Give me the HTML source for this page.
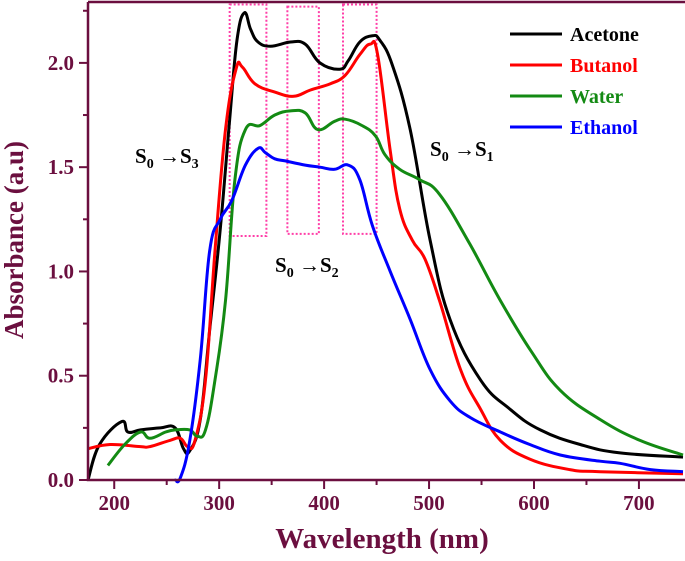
<!DOCTYPE html>
<html><head><meta charset="utf-8"><style>
body{margin:0;background:#fff}
svg text{font-family:"Liberation Serif",serif;font-weight:bold}
</style></head><body>
<svg id="chart" width="685" height="556" viewBox="0 0 685 556" xmlns="http://www.w3.org/2000/svg"></svg>
<script>
const xTicks=[200,300,400,500,600,700];
const yTicks=[0.0,0.5,1.0,1.5,2.0];
const seriesNames=["Acetone","Butanol","Water","Ethanol"];
const seriesColors=["#000000","#ff0000","#138a13","#0000ff"];
const acetoneX=[175,186,207,213,225,244,258,266,272,282,291,301,310,317,324,330,337,349,368,382,396,415,423,434,446,453,465,482,501,520,549,577,606,644,682,742];
const acetoneY=[0,0.17,0.28,0.23,0.24,0.25,0.25,0.15,0.14,0.29,0.72,1.2,1.73,2.11,2.24,2.16,2.1,2.08,2.1,2.09,2.0,1.97,2.01,2.1,2.13,2.11,1.99,1.68,1.15,0.77,0.48,0.34,0.24,0.17,0.13,0.11];
const butanolX=[175,196,225,234,253,263,270,277,287,296,306,316,322,334,353,371,387,406,420,434,444,451,463,472,484,496,510,530,549,568,596,634,663,742];
const butanolY=[0.15,0.17,0.16,0.16,0.19,0.2,0.16,0.19,0.48,1.1,1.68,1.97,1.98,1.9,1.86,1.84,1.87,1.9,1.94,2.04,2.09,2.04,1.58,1.3,1.15,1.06,0.86,0.53,0.34,0.19,0.1,0.05,0.04,0.03];
const waterX=[194,210,225,234,249,258,272,279,287,296,306,315,325,339,353,368,382,394,410,420,436,449,458,472,491,510,539,568,597,625,663,701,742];
const waterY=[0.07,0.17,0.23,0.2,0.23,0.24,0.24,0.21,0.24,0.48,0.86,1.44,1.68,1.7,1.75,1.77,1.76,1.68,1.72,1.73,1.7,1.65,1.56,1.49,1.44,1.37,1.13,0.86,0.62,0.43,0.29,0.19,0.12];
const ethanolX=[258,263,272,282,291,301,312,325,337,344,353,363,382,396,410,423,434,446,463,482,501,520,539,568,596,625,663,682,711,742];
const ethanolY=[0,0.01,0.19,0.58,1.1,1.25,1.34,1.51,1.59,1.57,1.54,1.53,1.51,1.5,1.49,1.51,1.44,1.22,1.0,0.77,0.53,0.38,0.3,0.23,0.17,0.12,0.09,0.08,0.05,0.04];
const allX=[acetoneX,butanolX,waterX,ethanolX], allY=[acetoneY,butanolY,waterY,ethanolY];

const svg=document.getElementById('chart');
const NS='http://www.w3.org/2000/svg';
const L=88,R=683,T=2,B=480,XMIN=175,XMAX=742,YMIN=0,YMAX=2.292;
const AX='#6b0f3f';
function sx(v){return L+(v-XMIN)/(XMAX-XMIN)*(R-L);}
function sy(v){return B-(v-YMIN)/(YMAX-YMIN)*(B-T);}
function mk(tag,attrs,parent){const e=document.createElementNS(NS,tag);for(const k in attrs)e.setAttribute(k,attrs[k]);(parent||svg).appendChild(e);return e;}
function smooth(pts){
  let d='M'+pts[0][0].toFixed(1)+','+pts[0][1].toFixed(1);
  for(let i=0;i<pts.length-1;i++){
    const p0=pts[Math.max(i-1,0)],p1=pts[i],p2=pts[i+1],p3=pts[Math.min(i+2,pts.length-1)];
    const t=0.2;
    const c1=[p1[0]+(p2[0]-p0[0])*t,p1[1]+(p2[1]-p0[1])*t];
    const c2=[p2[0]-(p3[0]-p1[0])*t,p2[1]-(p3[1]-p1[1])*t];
    d+=` C${c1[0].toFixed(1)},${c1[1].toFixed(1)} ${c2[0].toFixed(1)},${c2[1].toFixed(1)} ${p2[0].toFixed(1)},${p2[1].toFixed(1)}`;
  }
  return d;
}

const boxes=[[310,345,2.28,1.17],[365,395,2.27,1.18],[418,450,2.28,1.18]];
boxes.forEach((b,i)=>{
  const r=mk('rect',{x:sx(b[0]),y:sy(b[2]),width:sx(b[1])-sx(b[0]),height:sy(b[3])-sy(b[2]),fill:'none',stroke:'#ff3fa8','stroke-width':2,'stroke-dasharray':'2,2'});
  
  
});

for(let s=0;s<4;s++){
  const pts=allX[s].map((x,i)=>[sx(x),sy(allY[s][i])]);
  const p=mk('path',{d:smooth(pts),fill:'none',stroke:seriesColors[s],'stroke-width':3,'stroke-linejoin':'round'});
  
  
}

const ax=mk('path',{d:`M${L},${T} L${L},${B} L${R+2},${B} M${L},${T} L${R+2},${T}`,fill:'none',stroke:AX,'stroke-width':2.5});


xTicks.forEach(v=>{
  mk('line',{x1:sx(v),x2:sx(v),y1:B,y2:B+9,stroke:AX,'stroke-width':2});
  mk('line',{x1:sx(v+50),x2:sx(v+50),y1:B,y2:B+5,stroke:AX,'stroke-width':2});
  const t=mk('text',{x:sx(v),y:B+30,'text-anchor':'middle','font-size':21,fill:AX});t.textContent=v;
  
  
});
yTicks.forEach(v=>{
  mk('line',{x1:L-9,x2:L,y1:sy(v),y2:sy(v),stroke:AX,'stroke-width':2});
  mk('line',{x1:L-5,x2:L,y1:sy(v+0.25),y2:sy(v+0.25),stroke:AX,'stroke-width':2});
  const t=mk('text',{x:L-14,y:sy(v)+7,'text-anchor':'end','font-size':21,fill:AX});t.textContent=v.toFixed(1);
  
  
});
const xt=mk('text',{x:382,y:548,'text-anchor':'middle','font-size':29,fill:AX});xt.textContent='Wavelength (nm)';


const yt=mk('text',{x:0,y:0,'text-anchor':'middle','font-size':27,fill:AX,transform:'translate(23,240) rotate(-90)'});yt.textContent='Absorbance (a.u)';



seriesNames.forEach((n,i)=>{
  const y=34+i*31;
  const g=mk('g',{});
  
  
  mk('line',{x1:510,x2:562,y1:y,y2:y,stroke:seriesColors[i],'stroke-width':3},g);
  const t=mk('text',{x:570,y:y+7,'font-size':20,fill:seriesColors[i]},g);t.textContent=n;
});

function ann(x,y,sub,name){
  const t=mk('text',{x:x,y:y,'font-size':21,fill:'#000'});
  t.innerHTML='S<tspan font-size="14" dy="5">0</tspan><tspan dy="-5"> →S</tspan><tspan font-size="14" dy="5">'+sub+'</tspan>';
  
  
}
ann(135,163,'3','label-s0-s3');
ann(275,272,'2','label-s0-s2');
ann(430,156,'1','label-s0-s1');
</script>
</body></html>
